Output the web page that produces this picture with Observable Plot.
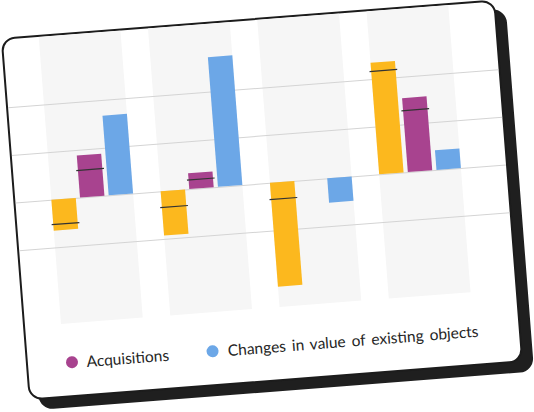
<!DOCTYPE html>
<html>
<head>
<meta charset="utf-8">
<script src="https://cdn.jsdelivr.net/npm/d3@7"></script>
<script src="https://cdn.jsdelivr.net/npm/@observablehq/plot@0.6"></script>
<style>
  html, body { margin: 0; padding: 0; background: #ffffff; }
  body { width: 534px; height: 412px; position: relative; overflow: hidden; }
  #card {
    position: absolute;
    left: 13.5px; top: 18px;
    width: 496px; height: 364px;
    box-sizing: border-box;
    border: 2px solid #1c1c1c;
    border-radius: 14px;
    background: #ffffff;
    box-shadow: 10px 10px 0 #1f1f1f;
    transform: rotate(-4.44deg);
    transform-origin: 50% 50%;
  }
  #clip { position: absolute; inset: 0; border-radius: 12px; overflow: hidden; }
  #chart { position: absolute; left: 0; top: 0; }
  #legend {
    position: absolute; left: 37.5px; top: 318px;
    display: flex; align-items: center;
    font-family: Lato, "Open Sans", sans-serif; font-size: 15.5px; word-spacing: 2px; color: #262626;
    white-space: nowrap;
  }
  .item { display: flex; align-items: center; margin-right: 38px; }
  .dot { width: 12px; height: 12px; border-radius: 50%; margin-right: 9px; display: inline-block; }
</style>
</head>
<body>
<div id="card">
  <div id="clip">
    <div id="chart"></div>
    <div id="legend"></div>
  </div>
</div>
<script>
// ---- data ----
const groups = ["Group 1", "Group 2", "Group 3", "Group 4"];
const seriesNames = ["Disposals", "Acquisitions", "Changes in value of existing objects"];
const seriesColors = ["#FCB81E", "#A8438F", "#6CA7E7"];
const disposals = [-6.5, -9.3, -21.8, 23.4];
const acquisitions = [8.8, 3.3, 0, 15.5];
const changes = [16.7, 27.2, -5.1, 4.1];
const disposalMarkers = [-5.1, -3.3, -3.4, 21.7];
const acquisitionMarkers = [5.8, 2.0, null, 13.0];
const gridValues = [-10, 0, 10, 20];
const legendSeries = ["Acquisitions", "Changes in value of existing objects"];

// ---- layout in group units (one unit = distance between groups) ----
const bandW = 0.748, barW = 0.2235, gap = (bandW - 3 * barW) / 2, over = 0.015;
const xDomain = [-0.3285, 4.1606];
const yDomain = [-26.05, 34.2];

const values = [disposals, acquisitions, changes];
const bars = [];
groups.forEach((g, gi) => values.forEach((arr, si) => {
  if (arr[gi] !== 0 && arr[gi] != null) bars.push({group: g, gi, si, series: seriesNames[si], value: arr[gi]});
}));
const markers = [];
groups.forEach((g, gi) => [disposalMarkers, acquisitionMarkers].forEach((arr, si) => {
  if (arr[gi] != null) markers.push({group: g, gi, si, value: arr[gi]});
}));
const x1 = d => d.gi + d.si * (barW + gap);

const chart = Plot.plot({
  width: 492, height: 288,
  margin: 0,
  x: {type: "linear", domain: xDomain, axis: null},
  y: {domain: yDomain, axis: null},
  color: {domain: seriesNames, range: seriesColors},
  style: {background: "transparent", overflow: "visible"},
  marks: [
    Plot.rect(groups, {x1: (d, i) => i, x2: (d, i) => i + bandW, y1: yDomain[0], y2: yDomain[1], fill: "#f6f6f6"}),
    Plot.ruleY(gridValues, {stroke: "#d4d4d4", strokeWidth: 1}),
    Plot.rect(bars, {x1, x2: d => x1(d) + barW, y1: 0, y2: "value", fill: "series"}),
    Plot.ruleY(markers, {y: "value", x1: d => x1(d) - over, x2: d => x1(d) + barW + over, stroke: "#333", strokeWidth: 1.2})
  ]
});
document.getElementById("chart").appendChild(chart);

const legend = document.getElementById("legend");
legendSeries.forEach(name => {
  const item = document.createElement("div");
  item.className = "item";
  const dot = document.createElement("span");
  dot.className = "dot";
  dot.style.background = seriesColors[seriesNames.indexOf(name)];
  const label = document.createElement("span");
  label.textContent = name;
  item.appendChild(dot); item.appendChild(label);
  legend.appendChild(item);
});
</script>
</body>
</html>
